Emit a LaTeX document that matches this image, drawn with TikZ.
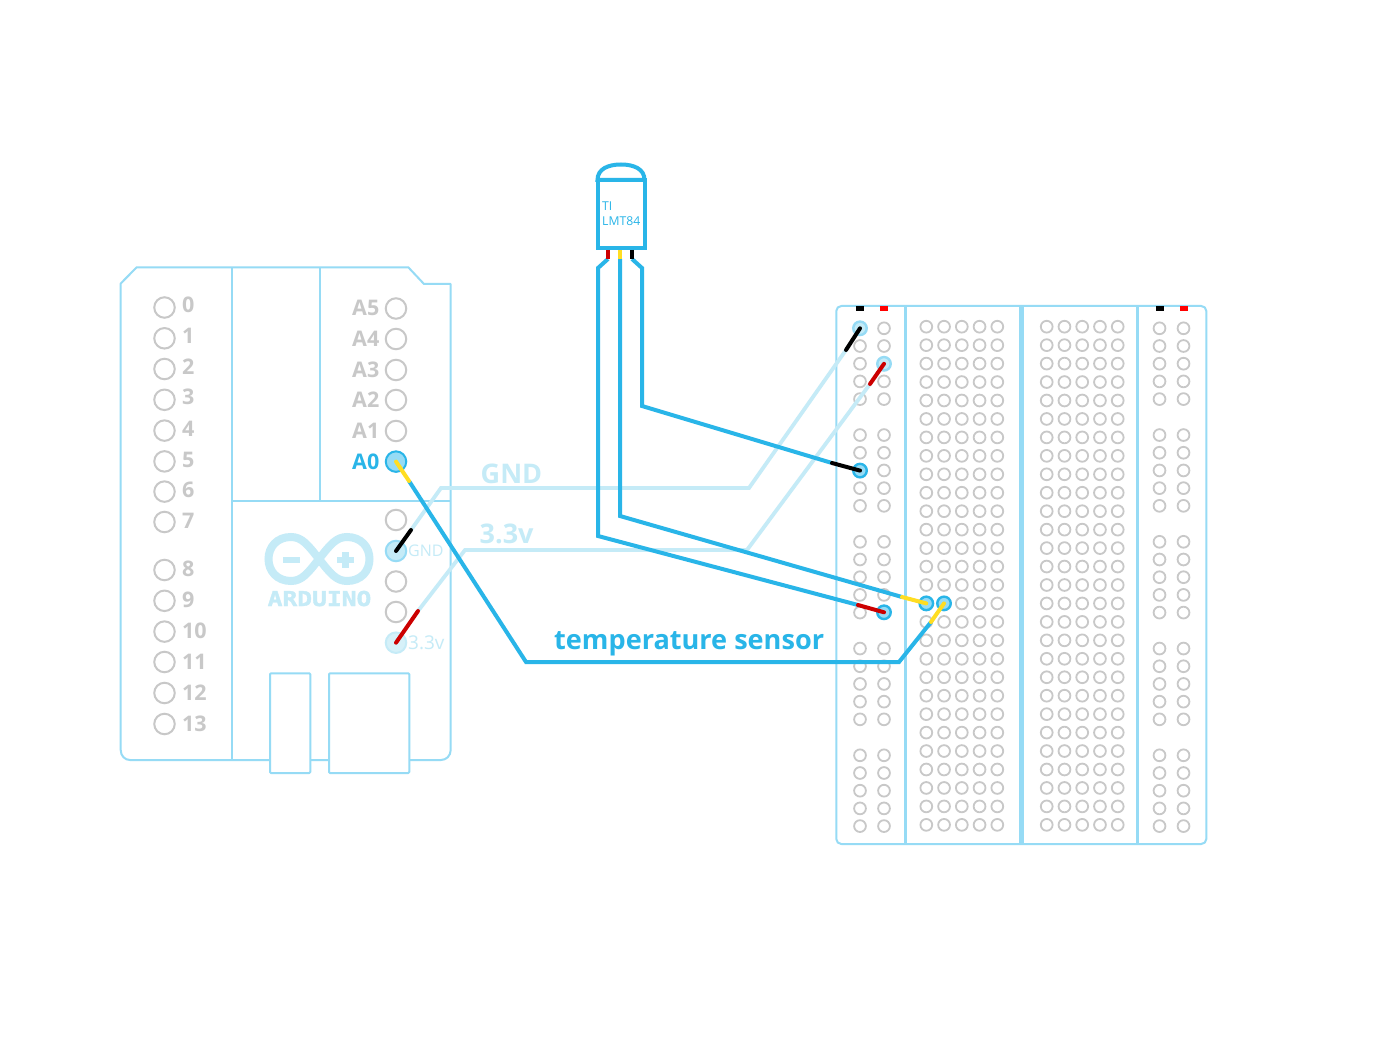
\documentclass[tikz,border=0pt]{standalone}
\usepackage{fontspec}
\setmainfont{Open Sans}
\newfontfamily\logofont[BoldFeatures={FakeBold=1.5}]{DejaVu Sans Mono}
\definecolor{outl}{HTML}{96DBF5}
\definecolor{dark}{HTML}{29B5E8}
\definecolor{pale}{HTML}{C5EBF7}
\definecolor{grey}{HTML}{C8C8C8}
\definecolor{wred}{HTML}{CC0000}
\definecolor{wyel}{HTML}{FFDD22}
\tikzset{
  board/.style={draw=outl,line width=2pt,line join=round},
  pinhole/.style={circle,draw=grey,line width=2pt,minimum size=20.5pt,inner sep=0pt,outer sep=0pt},
  hole/.style={circle,draw=grey,line width=1.8pt,minimum size=11.8pt,inner sep=0pt,outer sep=0pt},
  numlab/.style={anchor=base west,text=grey,font=\fontsize{21.5}{21.5}\selectfont\bfseries,inner sep=0pt},
  analab/.style={anchor=base east,text=grey,font=\fontsize{21.5}{21.5}\selectfont\bfseries,inner sep=0pt},
  palewire/.style={draw=pale,line width=3.8pt,line join=miter},
  bluewire/.style={draw=dark,line width=4pt,line join=miter},
  tipwire/.style={line width=4pt,line cap=round},
  tab/.style={draw=none,minimum width=8pt,minimum height=4.5pt,inner sep=0pt},
  palelab/.style={anchor=base west,text=pale,inner sep=0pt},
}
\begin{document}
\begin{tikzpicture}[x=1pt,y=-1pt]
\useasboundingbox (0,0) rectangle (1400,1040);
\fill[white] (0,0) rectangle (1400,1040);

% Arduino
\draw[board] (120.7,283.5) -- (136.7,267.3) -- (408.3,267.3) -- (424,284) -- (450.7,284)
  -- (450.7,750) .. controls (450.7,756) and (446,760) .. (441,760) -- (130,760) .. controls (125,760) and (120.7,756) .. (120.7,750) -- cycle;
\draw[board] (232,267.3) -- (232,760);
\draw[board] (320,267.3) -- (320,501);
\draw[board] (232,501) -- (450.7,501);
\draw[board,fill=white,rounded corners=1pt] (270,673.3) rectangle (310.3,773);
\draw[board,fill=white,rounded corners=1pt] (329,673.3) rectangle (409.3,773);

% logo
\draw[pale,line width=8pt] (319,559) .. controls (308,545) and (302,537) .. (291,537)
  .. controls (277,537) and (268.5,547) .. (268.5,559) .. controls (268.5,571) and (277,581) .. (291,581)
  .. controls (302,581) and (308,573) .. (319,559) .. controls (330,545) and (336,537) .. (347,537)
  .. controls (361,537) and (369.5,547) .. (369.5,559) .. controls (369.5,571) and (361,581) .. (347,581)
  .. controls (336,581) and (330,573) .. (319,559) -- cycle;
\fill[pale] (283,556.5) rectangle (300,562.7);
\fill[pale] (337,556.5) rectangle (354,562.7);
\fill[pale] (342.4,551.5) rectangle (348.6,568);
\node[inner sep=0pt,text=pale,font={\logofont\fontsize{20.5}{20.5}\selectfont\bfseries},anchor=base,xscale=1.2,transform shape] (logotext) at (319.5,606) {ARDUINO};

% digital pins
\foreach \n/\y/\b in {0/307.5/312.5,1/338.3/343.5,2/369/374,3/399.8/405,4/430.6/436,5/461.4/467,6/491.6/497.5,7/522/528.5,8/570/576.5,9/600.8/607,10/631.6/638.5,11/662/669,12/693/700.5,13/724/731}{
  \node[pinhole] (d\n) at (164.5,\y) {};
  \node[numlab] (dl\n) at (182,\b) {\n};
}
% analog pins
\foreach \n/\y in {5/308.5,4/339,3/370,2/400,1/431}{
  \node[pinhole] (a\n) at (396,\y) {};
  \node[analab] (al\n) at (379.5,\y+7.3) {A\n};
}
\node[pinhole,draw=dark,fill=outl] (a0) at (396,461.6) {};
\node[analab,text=dark] (al0) at (379.5,469.3) {A0};
\node[pinhole] (p1) at (396,520) {};
\node[pinhole,draw=outl,fill=pale] (gnd) at (396,551) {};
\node[pinhole] (p2) at (396,581.5) {};
\node[pinhole] (p3) at (396,612) {};
\node[pinhole,draw=pale,fill=pale!70] (vcc) at (396,642.7) {};
\node[palelab,font=\fontsize{16}{16}\selectfont] (gndlab) at (408,556) {GND};
\node[palelab,font=\fontsize{19}{19}\selectfont] (vcclab) at (408,649) {3.3v};

% breadboard
\draw[board,rounded corners=5pt] (836.3,306) rectangle (1206.3,844);
\draw[board,line width=2.5pt] (905.3,306) -- (905.3,844);
\draw[board,line width=2.5pt] (1137.3,306) -- (1137.3,844);
\fill[outl] (1019,306) rectangle (1024.3,844);
\node[tab,fill=black] (t1) at (860,308.5) {};
\node[tab,fill=red] (t2) at (884,308.5) {};
\node[tab,fill=black] (t3) at (1160,308.5) {};
\node[tab,fill=red] (t4) at (1184,308.5) {};

\foreach \g in {0,1,2,3,4}{
  \foreach \r in {0,1,2,3,4}{
    \pgfmathsetmacro\yy{328.3+106.75*\g+17.7*\r}
    \node[hole] (l\g-\r) at (860,\yy) {};
    \node[hole] (m\g-\r) at (884,\yy) {};
    \node[hole] (s\g-\r) at (1159.5,\yy) {};
    \node[hole] (u\g-\r) at (1183.5,\yy) {};
  }
}
\foreach \c in {0,1,2,3,4}{
  \foreach \r in {0,...,27}{
    \pgfmathsetmacro\yy{326.7+18.45*\r}
    \pgfmathsetmacro\xa{926.3+17.75*\c}
    \pgfmathsetmacro\xb{1046.7+17.75*\c}
    \node[hole] (c\c-\r) at (\xa,\yy) {};
    \node[hole] (e\c-\r) at (\xb,\yy) {};
  }
}
% highlighted breadboard holes
\foreach \nm/\x/\y in {hg/860/328.3,hv/884/363.8}
  \node[hole,draw=outl,fill=pale,line width=2.4pt,minimum size=13.5pt] (\nm) at (\x,\y) {};
\foreach \nm/\x/\y in {hs/860/470.6,hp/884/612.3,ht/926.3/603.4,hu/944/603.4}
  \node[hole,draw=dark,fill=outl,line width=2.4pt,minimum size=13.5pt] (\nm) at (\x,\y) {};

% junction coordinates
\coordinate (gA) at (411,530);
\coordinate (gB) at (846,350);
\coordinate (vA) at (418,611);
\coordinate (vB) at (870,384);
\coordinate (tA) at (409,481);
\coordinate (tB) at (931,622);
\coordinate (sR) at (858,605);
\coordinate (sY) at (902,597);
\coordinate (sK) at (832,463);
\coordinate (lR) at (608,259);
\coordinate (lY) at (620,259);
\coordinate (lK) at (632,259);

% pale wires
\draw[palewire] (gA) -- (441,488) -- (749,488) -- (gB);
\draw[palewire] (vA) -- (465,550) -- (747,550) -- (vB);
\draw[tipwire,black] (gnd.center) -- (gA);
\draw[tipwire,black] (hg.center) -- (gB);
\draw[tipwire,wred] (vcc.center) -- (vA);
\draw[tipwire,wred] (hv.center) -- (vB);

\node[palelab,font=\fontsize{27}{27}\selectfont\bfseries] (gndbig) at (480.5,483.5) {GND};
\node[palelab,font=\fontsize{27}{27}\selectfont\bfseries] (vccbig) at (479.5,543) {3.3v};

% sensor
\draw[dark,line width=4pt,fill=white] (597.5,180) .. controls (597.5,169) and (608,164.5) .. (621,164.5)
  .. controls (634,164.5) and (644.5,169) .. (644.5,180) -- cycle;
\draw[dark,line width=4pt,fill=white] (597.5,180) rectangle (644.5,248);
\node[anchor=base west,inner sep=0pt,text=dark,font=\fontsize{12.2}{12.2}\selectfont] (ti) at (602,210.5) {TI};
\node[anchor=base west,inner sep=0pt,text=dark,font=\fontsize{12.2}{12.2}\selectfont] (lmt) at (602,225.5) {LMT84};

% blue wires
\draw[bluewire] (lR) -- (598,268) -- (598,536) -- (sR);
\draw[bluewire] (lY) -- (620,516) -- (sY);
\draw[bluewire] (lK) -- (642,268) -- (642,406) -- (sK);
\draw[bluewire] (tA) -- (526,662) -- (899,662) -- (tB);
\draw[tipwire,line cap=butt,wred] (608,250) -- (lR);
\draw[tipwire,line cap=butt,wyel] (620,250) -- (lY);
\draw[tipwire,line cap=butt,black] (632,250) -- (lK);
\draw[tipwire,black] (hs.center) -- (sK);
\draw[tipwire,wred] (hp.center) -- (sR);
\draw[tipwire,wyel] (ht.center) -- (sY);
\draw[tipwire,wyel] (hu.center) -- (tB);
\draw[tipwire,wyel] (a0.center) -- (tA);

\node[anchor=base west,inner sep=0pt,text=dark,font=\fontsize{27.1}{27.1}\selectfont\bfseries] (title) at (554,649.5) {temperature sensor};
\end{tikzpicture}
\end{document}
